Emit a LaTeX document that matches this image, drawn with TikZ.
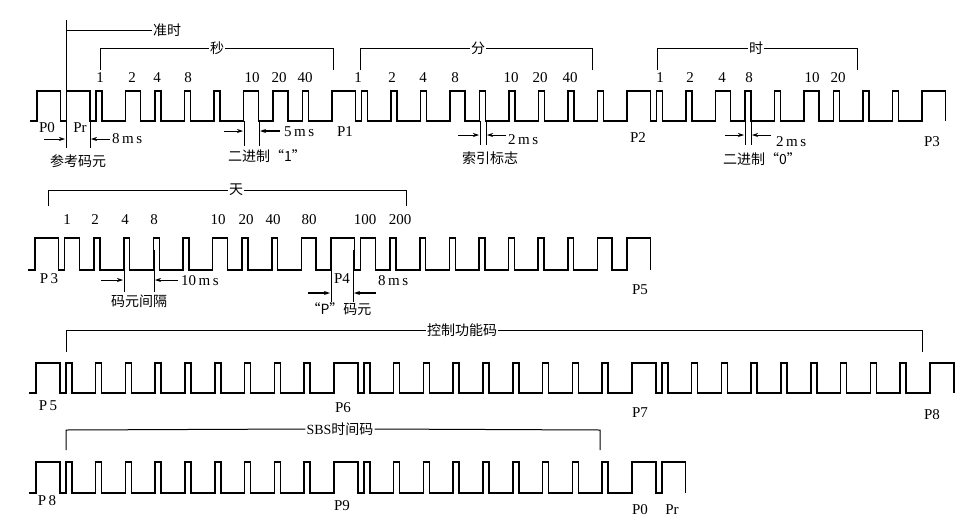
\documentclass[tikz,border=0pt]{standalone}
\usepackage{fontspec}
\setmainfont{Liberation Serif}
\newfontfamily\cjk{Noto Sans CJK SC}
\usetikzlibrary{arrows.meta}
\tikzset{
 wave/.style={line width=1.5pt,line join=miter},
 brk/.style={line width=1pt},
 lbl/.style={font=\fontsize{15}{17}\selectfont,inner sep=1pt},
 clbl/.style={font=\cjk\fontsize{14}{16}\selectfont,inner sep=1pt,fill=white},
 dim/.style={-{Stealth[length=6pt,width=4pt]},line width=0.7pt},
 tick/.style={line width=0.7pt}
}
\newcommand{\wavrow}[5]{% x0, slot, high, low, widths
 \draw[wave] ({#1-7},#4) \foreach \w [count=\k from 0] in {#5} { -- ({#1+\k*#2},#4) -- ({#1+\k*#2},#3) -- ({#1+(\k+\w)*#2},#3) -- ({#1+(\k+\w)*#2},#4) };}
\begin{document}
\begin{tikzpicture}[x=1pt,y=-1pt]
\useasboundingbox (0,0) rectangle (977,528);
% ---------- Row 1
\wavrow{37}{29.5}{91}{121}{.8,.8,.2,.5,.2,.2,.2,.5,.5,.2,.8,.2,.2,.2,.5,.2,.2,.2,.2,.2,.8,.2,.2,.5,.2,.2,.5,.2,.2,.2,.8}
\node[clbl,anchor=west] (zs) at (152,30) {准时};
\draw[brk] (66,20) -- (66,148);
\draw[brk] (66,30) -- (zs.west);
\node[clbl] (miao) at (217,48) {秒};
\draw[brk] (100,70) -- (100,48) -- (miao.west) (miao.east) -- (333,48) -- (333,70);
\node[clbl] (fen) at (478,48) {分};
\draw[brk] (360,70) -- (360,48) -- (fen.west) (fen.east) -- (592,48) -- (592,70);
\node[clbl] (shi) at (756,48) {时};
\draw[brk] (657,70) -- (657,48) -- (shi.west) (shi.east) -- (857,48) -- (857,70);
\foreach \t/\x in {1/100,2/132,4/157,8/188,10/252,20/279,40/305,1/358,2/392,4/423,8/455,10/511,20/540,40/570,1/660,2/690,4/722,8/749,10/812,20/838}
 \node[lbl] at (\x,78) {\t};
\node[lbl] (p0a) at (47,128) {P0};
\node[lbl] (pra) at (80,128) {Pr};
\coordinate (c1) at (44,139); \coordinate (c2) at (65,139);
\draw[dim] (c1) -- (c2);
\draw[tick] (90,121) -- (90,148);
\coordinate (c3) at (110,139); \coordinate (c4) at (91,139);
\draw[dim] (c3) -- (c4);
\node[lbl,anchor=west] (ms8) at (111,139) {8\,m\,s};
\node[clbl] (ckmy) at (78,161) {参考码元};
% binary 1
\draw[tick] (244,121) -- (244,146) (259,121) -- (259,146);
\coordinate (d1) at (224,131); \coordinate (d2) at (243,131);
\draw[dim] (d1) -- (d2);
\coordinate (d3) at (280,131); \coordinate (d4) at (260,131);
\draw[dim,line width=1.2pt] (d3) -- (d4);
\node[lbl,anchor=west] (ms5) at (283,132) {5\,m\,s};
\node[clbl] (bin1) at (267,156) {二进制“1”};
\node[lbl] (p1) at (345,132) {P1};
% index
\draw[tick] (480,121) -- (480,145) (486,121) -- (486,145);
\coordinate (e1) at (458,135); \coordinate (e2) at (479,135);
\draw[dim] (e1) -- (e2);
\coordinate (e3) at (506,135); \coordinate (e4) at (487,135);
\draw[dim] (e3) -- (e4);
\node[lbl,anchor=west] (ms2a) at (507,140) {2\,m\,s};
\node[clbl] (syb) at (490,158) {索引标志};
\node[lbl] (p2) at (638,138) {P2};
% binary 0
\draw[tick] (745,121) -- (745,145) (751,121) -- (751,145);
\coordinate (f1) at (725,135); \coordinate (f2) at (744,135);
\draw[dim] (f1) -- (f2);
\coordinate (f3) at (771,135); \coordinate (f4) at (752,135);
\draw[dim] (f3) -- (f4);
\node[lbl,anchor=west] (ms2b) at (775,142) {2\,m\,s};
\node[clbl] (bin0) at (762,159) {二进制“0”};
\node[lbl] (p3a) at (932,142) {P3};
% ---------- Row 2
\wavrow{35}{29.6}{238}{270}{.8,.5,.2,.2,.2,.2,.5,.2,.2,.5,.8,.5,.2,.2,.2,.2,.2,.2,.2,.5,.8}
\node[clbl] (tian) at (236,190) {天};
\draw[brk] (48,206) -- (48,190) -- (tian.west) (tian.east) -- (406,190) -- (406,206);
\foreach \t/\x in {1/67,2/95,4/125,8/154,10/218,20/246,40/273,80/309,100/365,200/400}
 \node[lbl] at (\x,220) {\t};
\node[lbl] (p3b) at (49,279) {P\,3};
\draw[tick] (124,250) -- (124,292) (154,250) -- (154,292);
\coordinate (g1) at (101,280); \coordinate (g2) at (123,280);
\draw[dim] (g1) -- (g2);
\coordinate (g3) at (178,280); \coordinate (g4) at (155,280);
\draw[dim] (g3) -- (g4);
\node[lbl,anchor=west] (ms10) at (180,281) {10\,m\,s};
\node[clbl] (myjg) at (139,301) {码元间隔};
\draw[tick] (331,250) -- (331,304) (353,250) -- (353,304);
\node[lbl] (p4) at (342,279) {P4};
\coordinate (h1) at (308,293); \coordinate (h2) at (330,293);
\draw[dim,line width=1.2pt] (h1) -- (h2);
\coordinate (h3) at (376,293); \coordinate (h4) at (354,293);
\draw[dim,line width=1.2pt] (h3) -- (h4);
\node[lbl,anchor=west] (ms8b) at (377,281) {8\,m\,s};
\node[clbl] (pmy) at (339,309) {“P”码元};
\node[lbl] (p5a) at (640,290) {P5};
% ---------- Row 3
\wavrow{36}{29.8}{363}{393}{.8,.2,.2,.2,.2,.2,.2,.2,.2,.2,.8,.2,.2,.2,.2,.2,.2,.2,.2,.2,.8,.2,.2,.2,.2,.2,.2,.2,.2,.2,.8}
\node[clbl] (kz) at (462,330) {控制功能码};
\draw[brk] (66,352) -- (66,330) -- (kz.west) (kz.east) -- (922,330) -- (922,352);
\node[lbl] (p5b) at (48,406) {P\,5};
\node[lbl] (p6) at (343,408) {P6};
\node[lbl] (p7) at (640,413) {P7};
\node[lbl] (p8a) at (932,415) {P8};
% ---------- Row 4
\wavrow{36}{29.8}{462}{493}{.8,.2,.2,.2,.2,.2,.2,.2,.2,.2,.8,.2,.2,.2,.2,.2,.2,.2,.2,.2,.8,.8}
\node[font=\fontsize{14}{16}\selectfont,inner sep=1pt,fill=white] (sbs) at (340,429) {SBS{\cjk 时间码}};
\draw[brk] (66,450) -- (66,430) -- (sbs.west) (sbs.east) -- (600,430) -- (600,450);
\node[lbl] (p8b) at (47,501) {P\,8};
\node[lbl] (p9) at (342,506) {P9};
\node[lbl] (p0b) at (640,510) {P0};
\node[lbl] (prb) at (672,510) {Pr};
\end{tikzpicture}
\end{document}
